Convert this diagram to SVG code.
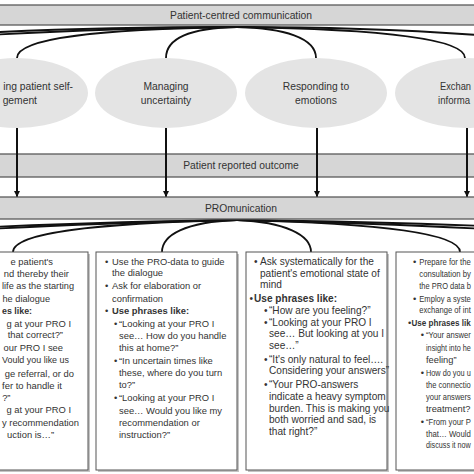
<svg xmlns="http://www.w3.org/2000/svg" width="474" height="474" viewBox="0 0 474 474">
<style>
.bar{fill:#d6d6d6;stroke:#5a5a5a;stroke-width:1.3}
.ell{fill:#e4e4e4}
.t{font-family:"Liberation Sans",Arial,sans-serif;fill:#333}
.c{text-anchor:middle;font-size:10.3px}
.con{fill:none;stroke:#111;stroke-width:1.8}
.arr{stroke:#111;stroke-width:2;marker-end:url(#ah)}
.box{fill:#fff;stroke:#555;stroke-width:1}
.sh{fill:#c4c4c4}
.b{font-weight:bold}
.e{text-anchor:end}
</style>
<defs>
<marker id="ah" markerUnits="userSpaceOnUse" markerWidth="6" markerHeight="6" refX="6" refY="3" orient="auto">
<path d="M0,0 L6,3 L0,6 z" fill="#111"/>
</marker>
</defs>
<rect width="474" height="474" fill="#fff"/>

<g id="bar-pcc">
<rect class="bar" x="-5" y="5" width="484" height="20"/>
<text class="t c" x="241" y="18.8">Patient-centred communication</text>
</g>

<g id="bar-pro">
<rect class="bar" x="-5" y="154" width="484" height="23"/>
<text class="t c" x="241" y="169.3">Patient reported outcome</text>
</g>

<g id="connectors">
<path class="con" d="M237,27 C190,28 166,38 166,58"/>
<path class="con" d="M237,27 C284,28 316,38 316,58"/>
<path class="con" d="M237,27 C100,29 17,38 17,58"/>
<path class="con" d="M237,27 C374,29 465,38 465,58"/>
<path class="con" d="M237,27 C150,27 60,29 -10,32.5"/>
<path class="con" d="M237,27 C150,28 60,31 -10,35"/>
<path class="con" d="M237,27 C320,27 410,30 484,35.5"/>
<line class="arr" x1="17" y1="128" x2="17" y2="197"/>
<line class="arr" x1="166" y1="128" x2="166" y2="197"/>
<line class="arr" x1="317" y1="128" x2="317" y2="197"/>
<line class="arr" x1="467" y1="128" x2="467" y2="197"/>
<path class="con" d="M237,220 C100,223 13,232 13,252"/>
<path class="con" d="M237,220 C185,222 162,235 162,252"/>
<path class="con" d="M237,220 C285,222 311,235 311,252"/>
<path class="con" d="M237,220 C370,223 460,232 460,252"/>
<path class="con" d="M237,220 C150,221 60,224 -10,227"/>
<path class="con" d="M237,220 C150,222 60,225 -10,229"/>
<path class="con" d="M237,220 C320,221 410,223 484,226"/>
<path class="con" d="M237,220 C320,222 410,225 484,229"/>
</g>

<g id="ell-1">
<ellipse class="ell" cx="17" cy="93" rx="71" ry="35"/>
<text class="t e" x="73" y="90" font-size="10.3px">ing patient self-</text>
<text class="t e" x="37" y="104" font-size="10.3px">gement</text>
</g>
<g id="ell-2">
<ellipse class="ell" cx="166" cy="93" rx="71" ry="35"/>
<text class="t c" x="166" y="90">Managing</text>
<text class="t c" x="166" y="104">uncertainty</text>
</g>
<g id="ell-3">
<ellipse class="ell" cx="316" cy="93" rx="71" ry="35"/>
<text class="t c" x="316" y="90">Responding to</text>
<text class="t c" x="316" y="104">emotions</text>
</g>
<g id="ell-4">
<ellipse class="ell" cx="466" cy="93" rx="71" ry="35"/>
<text class="t" x="440" y="90" font-size="10.3px" textLength="31" lengthAdjust="spacingAndGlyphs">Exchan</text>
<text class="t" x="438" y="104" font-size="10.3px" textLength="32" lengthAdjust="spacingAndGlyphs">informa</text>
</g>

<g id="bar-promunication">
<rect class="bar" x="-5" y="197" width="484" height="22"/>
<text class="t c" x="241" y="212">PROmunication</text>
</g>

<g id="box-1">
<rect class="sh" x="-52" y="254" width="142" height="218"/>
<rect class="box" x="-54" y="252" width="142" height="218"/>
<g class="t e" font-size="9.4px">
<text x="53" y="265">e patient's</text>
<text x="69" y="276.6">nd thereby their</text>
<text x="74" y="289" textLength="72" lengthAdjust="spacingAndGlyphs">life as the starting</text>
<text x="50" y="301.6" textLength="47.5" lengthAdjust="spacingAndGlyphs">he dialogue</text>
<text x="32" y="314" class="b" textLength="30" lengthAdjust="spacingAndGlyphs">es like:</text>
<text x="71" y="326.6">g at your PRO I</text>
<text x="63" y="338.3">that correct?”</text>
<text x="63" y="351">our PRO I see</text>
<text x="69" y="363.3" textLength="67" lengthAdjust="spacingAndGlyphs">Vould you like us</text>
<text x="74" y="376.6">ge referral, or do</text>
<text x="62" y="389" textLength="60" lengthAdjust="spacingAndGlyphs">fer to handle it</text>
<text x="10.5" y="401">?”</text>
<text x="71" y="413.3">g at your PRO I</text>
<text x="79" y="426" textLength="77" lengthAdjust="spacingAndGlyphs">y recommendation</text>
<text x="54" y="438.3">uction is…”</text>
</g>
</g>

<g id="box-2">
<rect class="sh" x="98" y="254" width="141" height="218"/>
<rect class="box" x="96" y="252" width="141" height="218"/>
<g class="t" font-size="9.4px">
<text x="105" y="265">•</text><text x="112" y="265">Use the PRO-data to guide</text>
<text x="112" y="276.3">the dialogue</text>
<text x="105" y="289.3">•</text><text x="112" y="289.3">Ask for elaboration or</text>
<text x="112" y="302.3">confirmation</text>
<text x="105" y="314.3">•</text><text x="112" y="314.3" class="b">Use phrases like:</text>
<text x="114" y="326.6">•</text><text x="119" y="326.6">“Looking at your PRO I</text>
<text x="119" y="338.6">see… How do you handle</text>
<text x="119" y="351">this at home?”</text>
<text x="114" y="364">•</text><text x="119" y="364">“In uncertain times like</text>
<text x="119" y="376">these, where do you turn</text>
<text x="119" y="387.6">to?”</text>
<text x="114" y="401">•</text><text x="119" y="401">“Looking at your PRO I</text>
<text x="119" y="414">see… Would you like my</text>
<text x="119" y="426">recommendation or</text>
<text x="119" y="438.3">instruction?”</text>
</g>
</g>

<g id="box-3">
<rect class="sh" x="248" y="254" width="141" height="218"/>
<rect class="box" x="246" y="252" width="141" height="218"/>
<g class="t" font-size="10.1px">
<text x="254" y="265">•</text><text x="260" y="265">Ask systematically for the</text>
<text x="260" y="276.6">patient's emotional state of</text>
<text x="260" y="288">mind</text>
<text x="249.5" y="301.6">•</text><text x="254" y="301.6" class="b">Use phrases like:</text>
<text x="264" y="314">•</text><text x="269" y="314">“How are you feeling?”</text>
<text x="264" y="326">•</text><text x="269" y="326">“Looking at your PRO I</text>
<text x="269" y="337.3">see… But looking at you I</text>
<text x="269" y="349">see…”</text>
<text x="264" y="362.6">•</text><text x="269" y="362.6">“It's only natural to feel….</text>
<text x="269" y="374.3">Considering your answers”</text>
<text x="264" y="387.6">•</text><text x="269" y="387.6">“Your PRO-answers</text>
<text x="269" y="400">indicate a heavy symptom</text>
<text x="269" y="411.6">burden. This is making you</text>
<text x="269" y="423.3">both worried and sad, is</text>
<text x="269" y="435">that right?”</text>
</g>
</g>

<g id="box-4">
<rect class="sh" x="398" y="254" width="141" height="218"/>
<rect class="box" x="396" y="252" width="141" height="218"/>
<g class="t" font-size="9.3px">
<text x="413" y="265">•</text><text x="419.3" y="265" textLength="51.5" lengthAdjust="spacingAndGlyphs">Prepare for the</text>
<text x="419.3" y="276.6" textLength="51.5" lengthAdjust="spacingAndGlyphs">consultation by</text>
<text x="419.3" y="289" textLength="51.5" lengthAdjust="spacingAndGlyphs">the PRO data b</text>
<text x="413" y="301.6">•</text><text x="419.3" y="301.6" textLength="51.5" lengthAdjust="spacingAndGlyphs">Employ a syste</text>
<text x="419.3" y="313.3" textLength="51.5" lengthAdjust="spacingAndGlyphs">exchange of int</text>
<text x="408" y="325.6">•</text><text x="411.5" y="325.6" class="b" textLength="59.3" lengthAdjust="spacingAndGlyphs">Use phrases lik</text>
<text x="420.7" y="338.3">•</text><text x="426" y="338.3" textLength="44.8" lengthAdjust="spacingAndGlyphs">“Your answer</text>
<text x="426" y="350.6" textLength="44.8" lengthAdjust="spacingAndGlyphs">insight into he</text>
<text x="426" y="362.6">feeling”</text>
<text x="420.7" y="375.6">•</text><text x="426" y="375.6" textLength="44.8" lengthAdjust="spacingAndGlyphs">How do you u</text>
<text x="426" y="387.6" textLength="44.8" lengthAdjust="spacingAndGlyphs">the connectio</text>
<text x="426" y="400" textLength="44.8" lengthAdjust="spacingAndGlyphs">your answers</text>
<text x="426" y="411.6" textLength="44.5" lengthAdjust="spacingAndGlyphs">treatment?</text>
<text x="420.7" y="425">•</text><text x="426" y="425" textLength="44.8" lengthAdjust="spacingAndGlyphs">“From your P</text>
<text x="426" y="436.6" textLength="44.8" lengthAdjust="spacingAndGlyphs">that… Would</text>
<text x="426" y="448.3" textLength="44.8" lengthAdjust="spacingAndGlyphs">discuss it now</text>
</g>
</g>
</svg>
